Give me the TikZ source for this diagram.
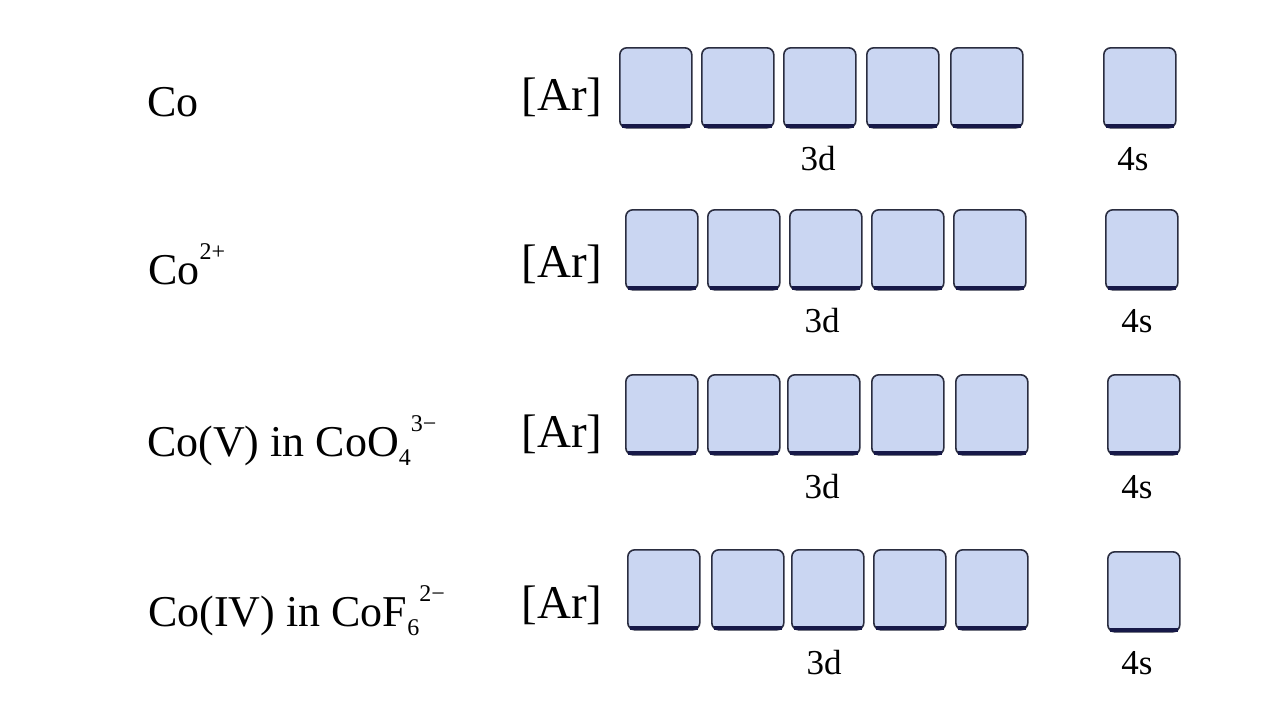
\documentclass[tikz,border=0pt]{standalone}
\usepackage{fontspec}
\setmainfont{Liberation Serif}
\newcommand{\mysup}[1]{\raisebox{0.55em}{\fontsize{24}{26}\selectfont #1}}
\newcommand{\mysub}[1]{\raisebox{-0.22em}{\fontsize{24}{26}\selectfont #1}}
\begin{document}
\begin{tikzpicture}[x=1pt,y=-1pt,
  orb/.style={line width=1.6pt,rounded corners=7pt,minimum width=72pt,minimum height=80pt,inner sep=0pt,anchor=north west},
  lab/.style={font=\fontsize{44}{48}\selectfont,anchor=base west,inner sep=0pt},
  ar/.style={font=\fontsize{47}{50}\selectfont,anchor=base,inner sep=0pt},
  sub/.style={font=\fontsize{35}{38}\selectfont,anchor=base,inner sep=0pt}]
\useasboundingbox (0,0) rectangle (1282,718);
\definecolor{orbfill}{HTML}{CAD6F2}
\definecolor{orbline}{HTML}{2A2D40}
\tikzset{orb/.append style={fill=orbfill,draw=orbline}}
\tikzset{bar/.style={orbline!80!blue!70!black,line width=3.5pt}}
% row 1
\node[lab] (l1) at (147,116) {Co};
\node[ar] (a1) at (562,110) {[Ar]};
\foreach \x [count=\i] in {619,701,783,866,950,1103}{\node[orb] (r1b\i) at (\x,47) {};
 \draw[bar] ([xshift=3pt,yshift=2.6pt]r1b\i.south west)--([xshift=-3pt,yshift=2.6pt]r1b\i.south east);}
\node[sub] (d1) at (818,170) {3d};
\node[sub] (s1) at (1133,170) {4s};
% row 2
\node[lab] (l2) at (148,284) {Co\mysup{2+}};
\node[ar] (a2) at (562,277) {[Ar]};
\foreach \x [count=\i] in {625,707,789,871,953,1105}{\node[orb] (r2b\i) at (\x,209) {};
 \draw[bar] ([xshift=3pt,yshift=2.6pt]r2b\i.south west)--([xshift=-3pt,yshift=2.6pt]r2b\i.south east);}
\node[sub] (d2) at (822,332) {3d};
\node[sub] (s2) at (1137,332) {4s};
% row 3
\node[lab] (l3) at (147,456) {Co(V) in CoO\mysub{4}\mysup{3−}};
\node[ar] (a3) at (562,447) {[Ar]};
\foreach \x [count=\i] in {625,707,787,871,955,1107}{\node[orb] (r3b\i) at (\x,374) {};
 \draw[bar] ([xshift=3pt,yshift=2.6pt]r3b\i.south west)--([xshift=-3pt,yshift=2.6pt]r3b\i.south east);}
\node[sub] (d3) at (822,498) {3d};
\node[sub] (s3) at (1137,498) {4s};
% row 4
\node[lab] (l4) at (148,626) {Co(IV) in CoF\mysub{6}\mysup{2−}};
\node[ar] (a4) at (562,618) {[Ar]};
\foreach \x [count=\i] in {627,711,791,873,955}{\node[orb] (r4b\i) at (\x,549) {};
 \draw[bar] ([xshift=3pt,yshift=2.6pt]r4b\i.south west)--([xshift=-3pt,yshift=2.6pt]r4b\i.south east);}
\node[orb] (r4b6) at (1107,551) {};
\draw[bar] ([xshift=3pt,yshift=2.6pt]r4b6.south west)--([xshift=-3pt,yshift=2.6pt]r4b6.south east);
\node[sub] (d4) at (824,674) {3d};
\node[sub] (s4) at (1137,674) {4s};
\end{tikzpicture}
\end{document}
